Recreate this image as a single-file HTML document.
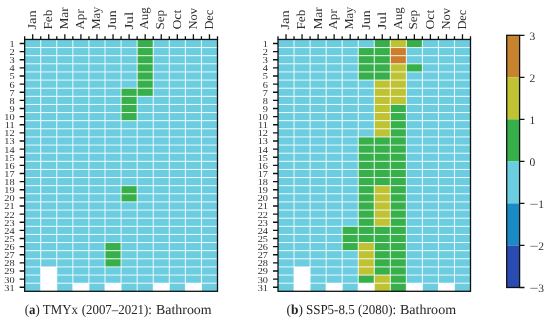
<!DOCTYPE html>
<html><head><meta charset="utf-8"><title>Heatmap</title>
<style>html,body{margin:0;padding:0;background:#fff;width:550px;height:321px;overflow:hidden}svg{display:block;text-rendering:geometricPrecision}</style>
</head><body>
<svg width="550" height="321" viewBox="0 0 550 321" font-family="'Liberation Serif', 'DejaVu Serif', serif" fill="#2e2e2e">
<rect x="24.65" y="39.45" width="16.07" height="8.12" fill="#6ccde0"/>
<rect x="24.65" y="47.57" width="16.07" height="8.12" fill="#6ccde0"/>
<rect x="24.65" y="55.70" width="16.07" height="8.12" fill="#6ccde0"/>
<rect x="24.65" y="63.82" width="16.07" height="8.12" fill="#6ccde0"/>
<rect x="24.65" y="71.95" width="16.07" height="8.12" fill="#6ccde0"/>
<rect x="24.65" y="80.07" width="16.07" height="8.12" fill="#6ccde0"/>
<rect x="24.65" y="88.20" width="16.07" height="8.12" fill="#6ccde0"/>
<rect x="24.65" y="96.32" width="16.07" height="8.12" fill="#6ccde0"/>
<rect x="24.65" y="104.44" width="16.07" height="8.12" fill="#6ccde0"/>
<rect x="24.65" y="112.57" width="16.07" height="8.12" fill="#6ccde0"/>
<rect x="24.65" y="120.69" width="16.07" height="8.12" fill="#6ccde0"/>
<rect x="24.65" y="128.82" width="16.07" height="8.12" fill="#6ccde0"/>
<rect x="24.65" y="136.94" width="16.07" height="8.12" fill="#6ccde0"/>
<rect x="24.65" y="145.06" width="16.07" height="8.12" fill="#6ccde0"/>
<rect x="24.65" y="153.19" width="16.07" height="8.12" fill="#6ccde0"/>
<rect x="24.65" y="161.31" width="16.07" height="8.12" fill="#6ccde0"/>
<rect x="24.65" y="169.44" width="16.07" height="8.12" fill="#6ccde0"/>
<rect x="24.65" y="177.56" width="16.07" height="8.12" fill="#6ccde0"/>
<rect x="24.65" y="185.69" width="16.07" height="8.12" fill="#6ccde0"/>
<rect x="24.65" y="193.81" width="16.07" height="8.12" fill="#6ccde0"/>
<rect x="24.65" y="201.93" width="16.07" height="8.12" fill="#6ccde0"/>
<rect x="24.65" y="210.06" width="16.07" height="8.12" fill="#6ccde0"/>
<rect x="24.65" y="218.18" width="16.07" height="8.12" fill="#6ccde0"/>
<rect x="24.65" y="226.31" width="16.07" height="8.12" fill="#6ccde0"/>
<rect x="24.65" y="234.43" width="16.07" height="8.12" fill="#6ccde0"/>
<rect x="24.65" y="242.55" width="16.07" height="8.12" fill="#6ccde0"/>
<rect x="24.65" y="250.68" width="16.07" height="8.12" fill="#6ccde0"/>
<rect x="24.65" y="258.80" width="16.07" height="8.12" fill="#6ccde0"/>
<rect x="24.65" y="266.93" width="16.07" height="8.12" fill="#6ccde0"/>
<rect x="24.65" y="275.05" width="16.07" height="8.12" fill="#6ccde0"/>
<rect x="24.65" y="283.18" width="16.07" height="8.12" fill="#6ccde0"/>
<rect x="40.72" y="39.45" width="16.07" height="8.12" fill="#6ccde0"/>
<rect x="40.72" y="47.57" width="16.07" height="8.12" fill="#6ccde0"/>
<rect x="40.72" y="55.70" width="16.07" height="8.12" fill="#6ccde0"/>
<rect x="40.72" y="63.82" width="16.07" height="8.12" fill="#6ccde0"/>
<rect x="40.72" y="71.95" width="16.07" height="8.12" fill="#6ccde0"/>
<rect x="40.72" y="80.07" width="16.07" height="8.12" fill="#6ccde0"/>
<rect x="40.72" y="88.20" width="16.07" height="8.12" fill="#6ccde0"/>
<rect x="40.72" y="96.32" width="16.07" height="8.12" fill="#6ccde0"/>
<rect x="40.72" y="104.44" width="16.07" height="8.12" fill="#6ccde0"/>
<rect x="40.72" y="112.57" width="16.07" height="8.12" fill="#6ccde0"/>
<rect x="40.72" y="120.69" width="16.07" height="8.12" fill="#6ccde0"/>
<rect x="40.72" y="128.82" width="16.07" height="8.12" fill="#6ccde0"/>
<rect x="40.72" y="136.94" width="16.07" height="8.12" fill="#6ccde0"/>
<rect x="40.72" y="145.06" width="16.07" height="8.12" fill="#6ccde0"/>
<rect x="40.72" y="153.19" width="16.07" height="8.12" fill="#6ccde0"/>
<rect x="40.72" y="161.31" width="16.07" height="8.12" fill="#6ccde0"/>
<rect x="40.72" y="169.44" width="16.07" height="8.12" fill="#6ccde0"/>
<rect x="40.72" y="177.56" width="16.07" height="8.12" fill="#6ccde0"/>
<rect x="40.72" y="185.69" width="16.07" height="8.12" fill="#6ccde0"/>
<rect x="40.72" y="193.81" width="16.07" height="8.12" fill="#6ccde0"/>
<rect x="40.72" y="201.93" width="16.07" height="8.12" fill="#6ccde0"/>
<rect x="40.72" y="210.06" width="16.07" height="8.12" fill="#6ccde0"/>
<rect x="40.72" y="218.18" width="16.07" height="8.12" fill="#6ccde0"/>
<rect x="40.72" y="226.31" width="16.07" height="8.12" fill="#6ccde0"/>
<rect x="40.72" y="234.43" width="16.07" height="8.12" fill="#6ccde0"/>
<rect x="40.72" y="242.55" width="16.07" height="8.12" fill="#6ccde0"/>
<rect x="40.72" y="250.68" width="16.07" height="8.12" fill="#6ccde0"/>
<rect x="40.72" y="258.80" width="16.07" height="8.12" fill="#6ccde0"/>
<rect x="56.79" y="39.45" width="16.07" height="8.12" fill="#6ccde0"/>
<rect x="56.79" y="47.57" width="16.07" height="8.12" fill="#6ccde0"/>
<rect x="56.79" y="55.70" width="16.07" height="8.12" fill="#6ccde0"/>
<rect x="56.79" y="63.82" width="16.07" height="8.12" fill="#6ccde0"/>
<rect x="56.79" y="71.95" width="16.07" height="8.12" fill="#6ccde0"/>
<rect x="56.79" y="80.07" width="16.07" height="8.12" fill="#6ccde0"/>
<rect x="56.79" y="88.20" width="16.07" height="8.12" fill="#6ccde0"/>
<rect x="56.79" y="96.32" width="16.07" height="8.12" fill="#6ccde0"/>
<rect x="56.79" y="104.44" width="16.07" height="8.12" fill="#6ccde0"/>
<rect x="56.79" y="112.57" width="16.07" height="8.12" fill="#6ccde0"/>
<rect x="56.79" y="120.69" width="16.07" height="8.12" fill="#6ccde0"/>
<rect x="56.79" y="128.82" width="16.07" height="8.12" fill="#6ccde0"/>
<rect x="56.79" y="136.94" width="16.07" height="8.12" fill="#6ccde0"/>
<rect x="56.79" y="145.06" width="16.07" height="8.12" fill="#6ccde0"/>
<rect x="56.79" y="153.19" width="16.07" height="8.12" fill="#6ccde0"/>
<rect x="56.79" y="161.31" width="16.07" height="8.12" fill="#6ccde0"/>
<rect x="56.79" y="169.44" width="16.07" height="8.12" fill="#6ccde0"/>
<rect x="56.79" y="177.56" width="16.07" height="8.12" fill="#6ccde0"/>
<rect x="56.79" y="185.69" width="16.07" height="8.12" fill="#6ccde0"/>
<rect x="56.79" y="193.81" width="16.07" height="8.12" fill="#6ccde0"/>
<rect x="56.79" y="201.93" width="16.07" height="8.12" fill="#6ccde0"/>
<rect x="56.79" y="210.06" width="16.07" height="8.12" fill="#6ccde0"/>
<rect x="56.79" y="218.18" width="16.07" height="8.12" fill="#6ccde0"/>
<rect x="56.79" y="226.31" width="16.07" height="8.12" fill="#6ccde0"/>
<rect x="56.79" y="234.43" width="16.07" height="8.12" fill="#6ccde0"/>
<rect x="56.79" y="242.55" width="16.07" height="8.12" fill="#6ccde0"/>
<rect x="56.79" y="250.68" width="16.07" height="8.12" fill="#6ccde0"/>
<rect x="56.79" y="258.80" width="16.07" height="8.12" fill="#6ccde0"/>
<rect x="56.79" y="266.93" width="16.07" height="8.12" fill="#6ccde0"/>
<rect x="56.79" y="275.05" width="16.07" height="8.12" fill="#6ccde0"/>
<rect x="56.79" y="283.18" width="16.07" height="8.12" fill="#6ccde0"/>
<rect x="72.86" y="39.45" width="16.07" height="8.12" fill="#6ccde0"/>
<rect x="72.86" y="47.57" width="16.07" height="8.12" fill="#6ccde0"/>
<rect x="72.86" y="55.70" width="16.07" height="8.12" fill="#6ccde0"/>
<rect x="72.86" y="63.82" width="16.07" height="8.12" fill="#6ccde0"/>
<rect x="72.86" y="71.95" width="16.07" height="8.12" fill="#6ccde0"/>
<rect x="72.86" y="80.07" width="16.07" height="8.12" fill="#6ccde0"/>
<rect x="72.86" y="88.20" width="16.07" height="8.12" fill="#6ccde0"/>
<rect x="72.86" y="96.32" width="16.07" height="8.12" fill="#6ccde0"/>
<rect x="72.86" y="104.44" width="16.07" height="8.12" fill="#6ccde0"/>
<rect x="72.86" y="112.57" width="16.07" height="8.12" fill="#6ccde0"/>
<rect x="72.86" y="120.69" width="16.07" height="8.12" fill="#6ccde0"/>
<rect x="72.86" y="128.82" width="16.07" height="8.12" fill="#6ccde0"/>
<rect x="72.86" y="136.94" width="16.07" height="8.12" fill="#6ccde0"/>
<rect x="72.86" y="145.06" width="16.07" height="8.12" fill="#6ccde0"/>
<rect x="72.86" y="153.19" width="16.07" height="8.12" fill="#6ccde0"/>
<rect x="72.86" y="161.31" width="16.07" height="8.12" fill="#6ccde0"/>
<rect x="72.86" y="169.44" width="16.07" height="8.12" fill="#6ccde0"/>
<rect x="72.86" y="177.56" width="16.07" height="8.12" fill="#6ccde0"/>
<rect x="72.86" y="185.69" width="16.07" height="8.12" fill="#6ccde0"/>
<rect x="72.86" y="193.81" width="16.07" height="8.12" fill="#6ccde0"/>
<rect x="72.86" y="201.93" width="16.07" height="8.12" fill="#6ccde0"/>
<rect x="72.86" y="210.06" width="16.07" height="8.12" fill="#6ccde0"/>
<rect x="72.86" y="218.18" width="16.07" height="8.12" fill="#6ccde0"/>
<rect x="72.86" y="226.31" width="16.07" height="8.12" fill="#6ccde0"/>
<rect x="72.86" y="234.43" width="16.07" height="8.12" fill="#6ccde0"/>
<rect x="72.86" y="242.55" width="16.07" height="8.12" fill="#6ccde0"/>
<rect x="72.86" y="250.68" width="16.07" height="8.12" fill="#6ccde0"/>
<rect x="72.86" y="258.80" width="16.07" height="8.12" fill="#6ccde0"/>
<rect x="72.86" y="266.93" width="16.07" height="8.12" fill="#6ccde0"/>
<rect x="72.86" y="275.05" width="16.07" height="8.12" fill="#6ccde0"/>
<rect x="88.93" y="39.45" width="16.07" height="8.12" fill="#6ccde0"/>
<rect x="88.93" y="47.57" width="16.07" height="8.12" fill="#6ccde0"/>
<rect x="88.93" y="55.70" width="16.07" height="8.12" fill="#6ccde0"/>
<rect x="88.93" y="63.82" width="16.07" height="8.12" fill="#6ccde0"/>
<rect x="88.93" y="71.95" width="16.07" height="8.12" fill="#6ccde0"/>
<rect x="88.93" y="80.07" width="16.07" height="8.12" fill="#6ccde0"/>
<rect x="88.93" y="88.20" width="16.07" height="8.12" fill="#6ccde0"/>
<rect x="88.93" y="96.32" width="16.07" height="8.12" fill="#6ccde0"/>
<rect x="88.93" y="104.44" width="16.07" height="8.12" fill="#6ccde0"/>
<rect x="88.93" y="112.57" width="16.07" height="8.12" fill="#6ccde0"/>
<rect x="88.93" y="120.69" width="16.07" height="8.12" fill="#6ccde0"/>
<rect x="88.93" y="128.82" width="16.07" height="8.12" fill="#6ccde0"/>
<rect x="88.93" y="136.94" width="16.07" height="8.12" fill="#6ccde0"/>
<rect x="88.93" y="145.06" width="16.07" height="8.12" fill="#6ccde0"/>
<rect x="88.93" y="153.19" width="16.07" height="8.12" fill="#6ccde0"/>
<rect x="88.93" y="161.31" width="16.07" height="8.12" fill="#6ccde0"/>
<rect x="88.93" y="169.44" width="16.07" height="8.12" fill="#6ccde0"/>
<rect x="88.93" y="177.56" width="16.07" height="8.12" fill="#6ccde0"/>
<rect x="88.93" y="185.69" width="16.07" height="8.12" fill="#6ccde0"/>
<rect x="88.93" y="193.81" width="16.07" height="8.12" fill="#6ccde0"/>
<rect x="88.93" y="201.93" width="16.07" height="8.12" fill="#6ccde0"/>
<rect x="88.93" y="210.06" width="16.07" height="8.12" fill="#6ccde0"/>
<rect x="88.93" y="218.18" width="16.07" height="8.12" fill="#6ccde0"/>
<rect x="88.93" y="226.31" width="16.07" height="8.12" fill="#6ccde0"/>
<rect x="88.93" y="234.43" width="16.07" height="8.12" fill="#6ccde0"/>
<rect x="88.93" y="242.55" width="16.07" height="8.12" fill="#6ccde0"/>
<rect x="88.93" y="250.68" width="16.07" height="8.12" fill="#6ccde0"/>
<rect x="88.93" y="258.80" width="16.07" height="8.12" fill="#6ccde0"/>
<rect x="88.93" y="266.93" width="16.07" height="8.12" fill="#6ccde0"/>
<rect x="88.93" y="275.05" width="16.07" height="8.12" fill="#6ccde0"/>
<rect x="88.93" y="283.18" width="16.07" height="8.12" fill="#6ccde0"/>
<rect x="105.00" y="39.45" width="16.07" height="8.12" fill="#6ccde0"/>
<rect x="105.00" y="47.57" width="16.07" height="8.12" fill="#6ccde0"/>
<rect x="105.00" y="55.70" width="16.07" height="8.12" fill="#6ccde0"/>
<rect x="105.00" y="63.82" width="16.07" height="8.12" fill="#6ccde0"/>
<rect x="105.00" y="71.95" width="16.07" height="8.12" fill="#6ccde0"/>
<rect x="105.00" y="80.07" width="16.07" height="8.12" fill="#6ccde0"/>
<rect x="105.00" y="88.20" width="16.07" height="8.12" fill="#6ccde0"/>
<rect x="105.00" y="96.32" width="16.07" height="8.12" fill="#6ccde0"/>
<rect x="105.00" y="104.44" width="16.07" height="8.12" fill="#6ccde0"/>
<rect x="105.00" y="112.57" width="16.07" height="8.12" fill="#6ccde0"/>
<rect x="105.00" y="120.69" width="16.07" height="8.12" fill="#6ccde0"/>
<rect x="105.00" y="128.82" width="16.07" height="8.12" fill="#6ccde0"/>
<rect x="105.00" y="136.94" width="16.07" height="8.12" fill="#6ccde0"/>
<rect x="105.00" y="145.06" width="16.07" height="8.12" fill="#6ccde0"/>
<rect x="105.00" y="153.19" width="16.07" height="8.12" fill="#6ccde0"/>
<rect x="105.00" y="161.31" width="16.07" height="8.12" fill="#6ccde0"/>
<rect x="105.00" y="169.44" width="16.07" height="8.12" fill="#6ccde0"/>
<rect x="105.00" y="177.56" width="16.07" height="8.12" fill="#6ccde0"/>
<rect x="105.00" y="185.69" width="16.07" height="8.12" fill="#6ccde0"/>
<rect x="105.00" y="193.81" width="16.07" height="8.12" fill="#6ccde0"/>
<rect x="105.00" y="201.93" width="16.07" height="8.12" fill="#6ccde0"/>
<rect x="105.00" y="210.06" width="16.07" height="8.12" fill="#6ccde0"/>
<rect x="105.00" y="218.18" width="16.07" height="8.12" fill="#6ccde0"/>
<rect x="105.00" y="226.31" width="16.07" height="8.12" fill="#6ccde0"/>
<rect x="105.00" y="234.43" width="16.07" height="8.12" fill="#6ccde0"/>
<rect x="105.00" y="242.55" width="16.07" height="8.12" fill="#37b04b"/>
<rect x="105.00" y="250.68" width="16.07" height="8.12" fill="#37b04b"/>
<rect x="105.00" y="258.80" width="16.07" height="8.12" fill="#37b04b"/>
<rect x="105.00" y="266.93" width="16.07" height="8.12" fill="#6ccde0"/>
<rect x="105.00" y="275.05" width="16.07" height="8.12" fill="#6ccde0"/>
<rect x="121.07" y="39.45" width="16.07" height="8.12" fill="#6ccde0"/>
<rect x="121.07" y="47.57" width="16.07" height="8.12" fill="#6ccde0"/>
<rect x="121.07" y="55.70" width="16.07" height="8.12" fill="#6ccde0"/>
<rect x="121.07" y="63.82" width="16.07" height="8.12" fill="#6ccde0"/>
<rect x="121.07" y="71.95" width="16.07" height="8.12" fill="#6ccde0"/>
<rect x="121.07" y="80.07" width="16.07" height="8.12" fill="#6ccde0"/>
<rect x="121.07" y="88.20" width="16.07" height="8.12" fill="#37b04b"/>
<rect x="121.07" y="96.32" width="16.07" height="8.12" fill="#37b04b"/>
<rect x="121.07" y="104.44" width="16.07" height="8.12" fill="#37b04b"/>
<rect x="121.07" y="112.57" width="16.07" height="8.12" fill="#37b04b"/>
<rect x="121.07" y="120.69" width="16.07" height="8.12" fill="#6ccde0"/>
<rect x="121.07" y="128.82" width="16.07" height="8.12" fill="#6ccde0"/>
<rect x="121.07" y="136.94" width="16.07" height="8.12" fill="#6ccde0"/>
<rect x="121.07" y="145.06" width="16.07" height="8.12" fill="#6ccde0"/>
<rect x="121.07" y="153.19" width="16.07" height="8.12" fill="#6ccde0"/>
<rect x="121.07" y="161.31" width="16.07" height="8.12" fill="#6ccde0"/>
<rect x="121.07" y="169.44" width="16.07" height="8.12" fill="#6ccde0"/>
<rect x="121.07" y="177.56" width="16.07" height="8.12" fill="#6ccde0"/>
<rect x="121.07" y="185.69" width="16.07" height="8.12" fill="#37b04b"/>
<rect x="121.07" y="193.81" width="16.07" height="8.12" fill="#37b04b"/>
<rect x="121.07" y="201.93" width="16.07" height="8.12" fill="#6ccde0"/>
<rect x="121.07" y="210.06" width="16.07" height="8.12" fill="#6ccde0"/>
<rect x="121.07" y="218.18" width="16.07" height="8.12" fill="#6ccde0"/>
<rect x="121.07" y="226.31" width="16.07" height="8.12" fill="#6ccde0"/>
<rect x="121.07" y="234.43" width="16.07" height="8.12" fill="#6ccde0"/>
<rect x="121.07" y="242.55" width="16.07" height="8.12" fill="#6ccde0"/>
<rect x="121.07" y="250.68" width="16.07" height="8.12" fill="#6ccde0"/>
<rect x="121.07" y="258.80" width="16.07" height="8.12" fill="#6ccde0"/>
<rect x="121.07" y="266.93" width="16.07" height="8.12" fill="#6ccde0"/>
<rect x="121.07" y="275.05" width="16.07" height="8.12" fill="#6ccde0"/>
<rect x="121.07" y="283.18" width="16.07" height="8.12" fill="#6ccde0"/>
<rect x="137.15" y="39.45" width="16.07" height="8.12" fill="#37b04b"/>
<rect x="137.15" y="47.57" width="16.07" height="8.12" fill="#37b04b"/>
<rect x="137.15" y="55.70" width="16.07" height="8.12" fill="#37b04b"/>
<rect x="137.15" y="63.82" width="16.07" height="8.12" fill="#37b04b"/>
<rect x="137.15" y="71.95" width="16.07" height="8.12" fill="#37b04b"/>
<rect x="137.15" y="80.07" width="16.07" height="8.12" fill="#37b04b"/>
<rect x="137.15" y="88.20" width="16.07" height="8.12" fill="#37b04b"/>
<rect x="137.15" y="96.32" width="16.07" height="8.12" fill="#6ccde0"/>
<rect x="137.15" y="104.44" width="16.07" height="8.12" fill="#6ccde0"/>
<rect x="137.15" y="112.57" width="16.07" height="8.12" fill="#6ccde0"/>
<rect x="137.15" y="120.69" width="16.07" height="8.12" fill="#6ccde0"/>
<rect x="137.15" y="128.82" width="16.07" height="8.12" fill="#6ccde0"/>
<rect x="137.15" y="136.94" width="16.07" height="8.12" fill="#6ccde0"/>
<rect x="137.15" y="145.06" width="16.07" height="8.12" fill="#6ccde0"/>
<rect x="137.15" y="153.19" width="16.07" height="8.12" fill="#6ccde0"/>
<rect x="137.15" y="161.31" width="16.07" height="8.12" fill="#6ccde0"/>
<rect x="137.15" y="169.44" width="16.07" height="8.12" fill="#6ccde0"/>
<rect x="137.15" y="177.56" width="16.07" height="8.12" fill="#6ccde0"/>
<rect x="137.15" y="185.69" width="16.07" height="8.12" fill="#6ccde0"/>
<rect x="137.15" y="193.81" width="16.07" height="8.12" fill="#6ccde0"/>
<rect x="137.15" y="201.93" width="16.07" height="8.12" fill="#6ccde0"/>
<rect x="137.15" y="210.06" width="16.07" height="8.12" fill="#6ccde0"/>
<rect x="137.15" y="218.18" width="16.07" height="8.12" fill="#6ccde0"/>
<rect x="137.15" y="226.31" width="16.07" height="8.12" fill="#6ccde0"/>
<rect x="137.15" y="234.43" width="16.07" height="8.12" fill="#6ccde0"/>
<rect x="137.15" y="242.55" width="16.07" height="8.12" fill="#6ccde0"/>
<rect x="137.15" y="250.68" width="16.07" height="8.12" fill="#6ccde0"/>
<rect x="137.15" y="258.80" width="16.07" height="8.12" fill="#6ccde0"/>
<rect x="137.15" y="266.93" width="16.07" height="8.12" fill="#6ccde0"/>
<rect x="137.15" y="275.05" width="16.07" height="8.12" fill="#6ccde0"/>
<rect x="137.15" y="283.18" width="16.07" height="8.12" fill="#6ccde0"/>
<rect x="153.22" y="39.45" width="16.07" height="8.12" fill="#6ccde0"/>
<rect x="153.22" y="47.57" width="16.07" height="8.12" fill="#6ccde0"/>
<rect x="153.22" y="55.70" width="16.07" height="8.12" fill="#6ccde0"/>
<rect x="153.22" y="63.82" width="16.07" height="8.12" fill="#6ccde0"/>
<rect x="153.22" y="71.95" width="16.07" height="8.12" fill="#6ccde0"/>
<rect x="153.22" y="80.07" width="16.07" height="8.12" fill="#6ccde0"/>
<rect x="153.22" y="88.20" width="16.07" height="8.12" fill="#6ccde0"/>
<rect x="153.22" y="96.32" width="16.07" height="8.12" fill="#6ccde0"/>
<rect x="153.22" y="104.44" width="16.07" height="8.12" fill="#6ccde0"/>
<rect x="153.22" y="112.57" width="16.07" height="8.12" fill="#6ccde0"/>
<rect x="153.22" y="120.69" width="16.07" height="8.12" fill="#6ccde0"/>
<rect x="153.22" y="128.82" width="16.07" height="8.12" fill="#6ccde0"/>
<rect x="153.22" y="136.94" width="16.07" height="8.12" fill="#6ccde0"/>
<rect x="153.22" y="145.06" width="16.07" height="8.12" fill="#6ccde0"/>
<rect x="153.22" y="153.19" width="16.07" height="8.12" fill="#6ccde0"/>
<rect x="153.22" y="161.31" width="16.07" height="8.12" fill="#6ccde0"/>
<rect x="153.22" y="169.44" width="16.07" height="8.12" fill="#6ccde0"/>
<rect x="153.22" y="177.56" width="16.07" height="8.12" fill="#6ccde0"/>
<rect x="153.22" y="185.69" width="16.07" height="8.12" fill="#6ccde0"/>
<rect x="153.22" y="193.81" width="16.07" height="8.12" fill="#6ccde0"/>
<rect x="153.22" y="201.93" width="16.07" height="8.12" fill="#6ccde0"/>
<rect x="153.22" y="210.06" width="16.07" height="8.12" fill="#6ccde0"/>
<rect x="153.22" y="218.18" width="16.07" height="8.12" fill="#6ccde0"/>
<rect x="153.22" y="226.31" width="16.07" height="8.12" fill="#6ccde0"/>
<rect x="153.22" y="234.43" width="16.07" height="8.12" fill="#6ccde0"/>
<rect x="153.22" y="242.55" width="16.07" height="8.12" fill="#6ccde0"/>
<rect x="153.22" y="250.68" width="16.07" height="8.12" fill="#6ccde0"/>
<rect x="153.22" y="258.80" width="16.07" height="8.12" fill="#6ccde0"/>
<rect x="153.22" y="266.93" width="16.07" height="8.12" fill="#6ccde0"/>
<rect x="153.22" y="275.05" width="16.07" height="8.12" fill="#6ccde0"/>
<rect x="169.29" y="39.45" width="16.07" height="8.12" fill="#6ccde0"/>
<rect x="169.29" y="47.57" width="16.07" height="8.12" fill="#6ccde0"/>
<rect x="169.29" y="55.70" width="16.07" height="8.12" fill="#6ccde0"/>
<rect x="169.29" y="63.82" width="16.07" height="8.12" fill="#6ccde0"/>
<rect x="169.29" y="71.95" width="16.07" height="8.12" fill="#6ccde0"/>
<rect x="169.29" y="80.07" width="16.07" height="8.12" fill="#6ccde0"/>
<rect x="169.29" y="88.20" width="16.07" height="8.12" fill="#6ccde0"/>
<rect x="169.29" y="96.32" width="16.07" height="8.12" fill="#6ccde0"/>
<rect x="169.29" y="104.44" width="16.07" height="8.12" fill="#6ccde0"/>
<rect x="169.29" y="112.57" width="16.07" height="8.12" fill="#6ccde0"/>
<rect x="169.29" y="120.69" width="16.07" height="8.12" fill="#6ccde0"/>
<rect x="169.29" y="128.82" width="16.07" height="8.12" fill="#6ccde0"/>
<rect x="169.29" y="136.94" width="16.07" height="8.12" fill="#6ccde0"/>
<rect x="169.29" y="145.06" width="16.07" height="8.12" fill="#6ccde0"/>
<rect x="169.29" y="153.19" width="16.07" height="8.12" fill="#6ccde0"/>
<rect x="169.29" y="161.31" width="16.07" height="8.12" fill="#6ccde0"/>
<rect x="169.29" y="169.44" width="16.07" height="8.12" fill="#6ccde0"/>
<rect x="169.29" y="177.56" width="16.07" height="8.12" fill="#6ccde0"/>
<rect x="169.29" y="185.69" width="16.07" height="8.12" fill="#6ccde0"/>
<rect x="169.29" y="193.81" width="16.07" height="8.12" fill="#6ccde0"/>
<rect x="169.29" y="201.93" width="16.07" height="8.12" fill="#6ccde0"/>
<rect x="169.29" y="210.06" width="16.07" height="8.12" fill="#6ccde0"/>
<rect x="169.29" y="218.18" width="16.07" height="8.12" fill="#6ccde0"/>
<rect x="169.29" y="226.31" width="16.07" height="8.12" fill="#6ccde0"/>
<rect x="169.29" y="234.43" width="16.07" height="8.12" fill="#6ccde0"/>
<rect x="169.29" y="242.55" width="16.07" height="8.12" fill="#6ccde0"/>
<rect x="169.29" y="250.68" width="16.07" height="8.12" fill="#6ccde0"/>
<rect x="169.29" y="258.80" width="16.07" height="8.12" fill="#6ccde0"/>
<rect x="169.29" y="266.93" width="16.07" height="8.12" fill="#6ccde0"/>
<rect x="169.29" y="275.05" width="16.07" height="8.12" fill="#6ccde0"/>
<rect x="169.29" y="283.18" width="16.07" height="8.12" fill="#6ccde0"/>
<rect x="185.36" y="39.45" width="16.07" height="8.12" fill="#6ccde0"/>
<rect x="185.36" y="47.57" width="16.07" height="8.12" fill="#6ccde0"/>
<rect x="185.36" y="55.70" width="16.07" height="8.12" fill="#6ccde0"/>
<rect x="185.36" y="63.82" width="16.07" height="8.12" fill="#6ccde0"/>
<rect x="185.36" y="71.95" width="16.07" height="8.12" fill="#6ccde0"/>
<rect x="185.36" y="80.07" width="16.07" height="8.12" fill="#6ccde0"/>
<rect x="185.36" y="88.20" width="16.07" height="8.12" fill="#6ccde0"/>
<rect x="185.36" y="96.32" width="16.07" height="8.12" fill="#6ccde0"/>
<rect x="185.36" y="104.44" width="16.07" height="8.12" fill="#6ccde0"/>
<rect x="185.36" y="112.57" width="16.07" height="8.12" fill="#6ccde0"/>
<rect x="185.36" y="120.69" width="16.07" height="8.12" fill="#6ccde0"/>
<rect x="185.36" y="128.82" width="16.07" height="8.12" fill="#6ccde0"/>
<rect x="185.36" y="136.94" width="16.07" height="8.12" fill="#6ccde0"/>
<rect x="185.36" y="145.06" width="16.07" height="8.12" fill="#6ccde0"/>
<rect x="185.36" y="153.19" width="16.07" height="8.12" fill="#6ccde0"/>
<rect x="185.36" y="161.31" width="16.07" height="8.12" fill="#6ccde0"/>
<rect x="185.36" y="169.44" width="16.07" height="8.12" fill="#6ccde0"/>
<rect x="185.36" y="177.56" width="16.07" height="8.12" fill="#6ccde0"/>
<rect x="185.36" y="185.69" width="16.07" height="8.12" fill="#6ccde0"/>
<rect x="185.36" y="193.81" width="16.07" height="8.12" fill="#6ccde0"/>
<rect x="185.36" y="201.93" width="16.07" height="8.12" fill="#6ccde0"/>
<rect x="185.36" y="210.06" width="16.07" height="8.12" fill="#6ccde0"/>
<rect x="185.36" y="218.18" width="16.07" height="8.12" fill="#6ccde0"/>
<rect x="185.36" y="226.31" width="16.07" height="8.12" fill="#6ccde0"/>
<rect x="185.36" y="234.43" width="16.07" height="8.12" fill="#6ccde0"/>
<rect x="185.36" y="242.55" width="16.07" height="8.12" fill="#6ccde0"/>
<rect x="185.36" y="250.68" width="16.07" height="8.12" fill="#6ccde0"/>
<rect x="185.36" y="258.80" width="16.07" height="8.12" fill="#6ccde0"/>
<rect x="185.36" y="266.93" width="16.07" height="8.12" fill="#6ccde0"/>
<rect x="185.36" y="275.05" width="16.07" height="8.12" fill="#6ccde0"/>
<rect x="201.43" y="39.45" width="16.07" height="8.12" fill="#6ccde0"/>
<rect x="201.43" y="47.57" width="16.07" height="8.12" fill="#6ccde0"/>
<rect x="201.43" y="55.70" width="16.07" height="8.12" fill="#6ccde0"/>
<rect x="201.43" y="63.82" width="16.07" height="8.12" fill="#6ccde0"/>
<rect x="201.43" y="71.95" width="16.07" height="8.12" fill="#6ccde0"/>
<rect x="201.43" y="80.07" width="16.07" height="8.12" fill="#6ccde0"/>
<rect x="201.43" y="88.20" width="16.07" height="8.12" fill="#6ccde0"/>
<rect x="201.43" y="96.32" width="16.07" height="8.12" fill="#6ccde0"/>
<rect x="201.43" y="104.44" width="16.07" height="8.12" fill="#6ccde0"/>
<rect x="201.43" y="112.57" width="16.07" height="8.12" fill="#6ccde0"/>
<rect x="201.43" y="120.69" width="16.07" height="8.12" fill="#6ccde0"/>
<rect x="201.43" y="128.82" width="16.07" height="8.12" fill="#6ccde0"/>
<rect x="201.43" y="136.94" width="16.07" height="8.12" fill="#6ccde0"/>
<rect x="201.43" y="145.06" width="16.07" height="8.12" fill="#6ccde0"/>
<rect x="201.43" y="153.19" width="16.07" height="8.12" fill="#6ccde0"/>
<rect x="201.43" y="161.31" width="16.07" height="8.12" fill="#6ccde0"/>
<rect x="201.43" y="169.44" width="16.07" height="8.12" fill="#6ccde0"/>
<rect x="201.43" y="177.56" width="16.07" height="8.12" fill="#6ccde0"/>
<rect x="201.43" y="185.69" width="16.07" height="8.12" fill="#6ccde0"/>
<rect x="201.43" y="193.81" width="16.07" height="8.12" fill="#6ccde0"/>
<rect x="201.43" y="201.93" width="16.07" height="8.12" fill="#6ccde0"/>
<rect x="201.43" y="210.06" width="16.07" height="8.12" fill="#6ccde0"/>
<rect x="201.43" y="218.18" width="16.07" height="8.12" fill="#6ccde0"/>
<rect x="201.43" y="226.31" width="16.07" height="8.12" fill="#6ccde0"/>
<rect x="201.43" y="234.43" width="16.07" height="8.12" fill="#6ccde0"/>
<rect x="201.43" y="242.55" width="16.07" height="8.12" fill="#6ccde0"/>
<rect x="201.43" y="250.68" width="16.07" height="8.12" fill="#6ccde0"/>
<rect x="201.43" y="258.80" width="16.07" height="8.12" fill="#6ccde0"/>
<rect x="201.43" y="266.93" width="16.07" height="8.12" fill="#6ccde0"/>
<rect x="201.43" y="275.05" width="16.07" height="8.12" fill="#6ccde0"/>
<rect x="201.43" y="283.18" width="16.07" height="8.12" fill="#6ccde0"/>
<path d="M40.72 39.45V291.30M56.79 39.45V291.30M72.86 39.45V291.30M88.93 39.45V291.30M105.00 39.45V291.30M121.07 39.45V291.30M137.15 39.45V291.30M153.22 39.45V291.30M169.29 39.45V291.30M185.36 39.45V291.30M201.43 39.45V291.30M24.65 47.57H217.50M24.65 55.70H217.50M24.65 63.82H217.50M24.65 71.95H217.50M24.65 80.07H217.50M24.65 88.20H217.50M24.65 96.32H217.50M24.65 104.44H217.50M24.65 112.57H217.50M24.65 120.69H217.50M24.65 128.82H217.50M24.65 136.94H217.50M24.65 145.06H217.50M24.65 153.19H217.50M24.65 161.31H217.50M24.65 169.44H217.50M24.65 177.56H217.50M24.65 185.69H217.50M24.65 193.81H217.50M24.65 201.93H217.50M24.65 210.06H217.50M24.65 218.18H217.50M24.65 226.31H217.50M24.65 234.43H217.50M24.65 242.55H217.50M24.65 250.68H217.50M24.65 258.80H217.50M24.65 266.93H217.50M24.65 275.05H217.50M24.65 283.18H217.50" stroke="#fff" stroke-width="0.85" fill="none"/>
<rect x="24.65" y="39.45" width="192.85" height="251.85" fill="none" stroke="#111" stroke-width="1.3"/>
<path d="M19.65 43.51H24.65M19.65 51.64H24.65M19.65 59.76H24.65M19.65 67.88H24.65M19.65 76.01H24.65M19.65 84.13H24.65M19.65 92.26H24.65M19.65 100.38H24.65M19.65 108.51H24.65M19.65 116.63H24.65M19.65 124.75H24.65M19.65 132.88H24.65M19.65 141.00H24.65M19.65 149.13H24.65M19.65 157.25H24.65M19.65 165.38H24.65M19.65 173.50H24.65M19.65 181.62H24.65M19.65 189.75H24.65M19.65 197.87H24.65M19.65 206.00H24.65M19.65 214.12H24.65M19.65 222.24H24.65M19.65 230.37H24.65M19.65 238.49H24.65M19.65 246.62H24.65M19.65 254.74H24.65M19.65 262.87H24.65M19.65 270.99H24.65M19.65 279.11H24.65M19.65 287.24H24.65M32.69 34.35V39.45M48.76 34.35V39.45M64.83 34.35V39.45M80.90 34.35V39.45M96.97 34.35V39.45M113.04 34.35V39.45M129.11 34.35V39.45M145.18 34.35V39.45M161.25 34.35V39.45M177.32 34.35V39.45M193.39 34.35V39.45M209.46 34.35V39.45M24.65 36.25V39.45M40.72 36.25V39.45M56.79 36.25V39.45M72.86 36.25V39.45M88.93 36.25V39.45M105.00 36.25V39.45M121.07 36.25V39.45M137.15 36.25V39.45M153.22 36.25V39.45M169.29 36.25V39.45M185.36 36.25V39.45M201.43 36.25V39.45M217.50 36.25V39.45" stroke="#111" stroke-width="1.3" fill="none"/>
<text transform="translate(14.65 46.91) scale(1.12 1)" text-anchor="end" font-size="9.2">1</text>
<text transform="translate(14.65 55.04) scale(1.12 1)" text-anchor="end" font-size="9.2">2</text>
<text transform="translate(14.65 63.16) scale(1.12 1)" text-anchor="end" font-size="9.2">3</text>
<text transform="translate(14.65 71.28) scale(1.12 1)" text-anchor="end" font-size="9.2">4</text>
<text transform="translate(14.65 79.41) scale(1.12 1)" text-anchor="end" font-size="9.2">5</text>
<text transform="translate(14.65 87.53) scale(1.12 1)" text-anchor="end" font-size="9.2">6</text>
<text transform="translate(14.65 95.66) scale(1.12 1)" text-anchor="end" font-size="9.2">7</text>
<text transform="translate(14.65 103.78) scale(1.12 1)" text-anchor="end" font-size="9.2">8</text>
<text transform="translate(14.65 111.91) scale(1.12 1)" text-anchor="end" font-size="9.2">9</text>
<text transform="translate(14.65 120.03) scale(1.12 1)" text-anchor="end" font-size="9.2">10</text>
<text transform="translate(14.65 128.15) scale(1.12 1)" text-anchor="end" font-size="9.2">11</text>
<text transform="translate(14.65 136.28) scale(1.12 1)" text-anchor="end" font-size="9.2">12</text>
<text transform="translate(14.65 144.40) scale(1.12 1)" text-anchor="end" font-size="9.2">13</text>
<text transform="translate(14.65 152.53) scale(1.12 1)" text-anchor="end" font-size="9.2">14</text>
<text transform="translate(14.65 160.65) scale(1.12 1)" text-anchor="end" font-size="9.2">15</text>
<text transform="translate(14.65 168.78) scale(1.12 1)" text-anchor="end" font-size="9.2">16</text>
<text transform="translate(14.65 176.90) scale(1.12 1)" text-anchor="end" font-size="9.2">17</text>
<text transform="translate(14.65 185.02) scale(1.12 1)" text-anchor="end" font-size="9.2">18</text>
<text transform="translate(14.65 193.15) scale(1.12 1)" text-anchor="end" font-size="9.2">19</text>
<text transform="translate(14.65 201.27) scale(1.12 1)" text-anchor="end" font-size="9.2">20</text>
<text transform="translate(14.65 209.40) scale(1.12 1)" text-anchor="end" font-size="9.2">21</text>
<text transform="translate(14.65 217.52) scale(1.12 1)" text-anchor="end" font-size="9.2">22</text>
<text transform="translate(14.65 225.64) scale(1.12 1)" text-anchor="end" font-size="9.2">23</text>
<text transform="translate(14.65 233.77) scale(1.12 1)" text-anchor="end" font-size="9.2">24</text>
<text transform="translate(14.65 241.89) scale(1.12 1)" text-anchor="end" font-size="9.2">25</text>
<text transform="translate(14.65 250.02) scale(1.12 1)" text-anchor="end" font-size="9.2">26</text>
<text transform="translate(14.65 258.14) scale(1.12 1)" text-anchor="end" font-size="9.2">27</text>
<text transform="translate(14.65 266.27) scale(1.12 1)" text-anchor="end" font-size="9.2">28</text>
<text transform="translate(14.65 274.39) scale(1.12 1)" text-anchor="end" font-size="9.2">29</text>
<text transform="translate(14.65 282.51) scale(1.12 1)" text-anchor="end" font-size="9.2">30</text>
<text transform="translate(14.65 290.64) scale(1.12 1)" text-anchor="end" font-size="9.2">31</text>
<text transform="translate(35.99 29.6) rotate(-90)" font-size="12.2" textLength="19.50" lengthAdjust="spacingAndGlyphs">Jan</text>
<text transform="translate(52.06 29.6) rotate(-90)" font-size="12.2" textLength="19.90" lengthAdjust="spacingAndGlyphs">Feb</text>
<text transform="translate(68.43 29.6) rotate(-90)" font-size="12.2" textLength="22.30" lengthAdjust="spacingAndGlyphs">Mar</text>
<text transform="translate(84.20 29.6) rotate(-90)" font-size="12.2" textLength="20.40" lengthAdjust="spacingAndGlyphs">Apr</text>
<text transform="translate(100.27 29.6) rotate(-90)" font-size="12.2" textLength="22.80" lengthAdjust="spacingAndGlyphs">May</text>
<text transform="translate(116.34 29.6) rotate(-90)" font-size="12.2" textLength="19.40" lengthAdjust="spacingAndGlyphs">Jun</text>
<text transform="translate(133.21 29.6) rotate(-90)" font-size="12.2" textLength="17.90" lengthAdjust="spacingAndGlyphs">Jul</text>
<text transform="translate(148.48 29.6) rotate(-90)" font-size="12.2" textLength="22.20" lengthAdjust="spacingAndGlyphs">Aug</text>
<text transform="translate(163.75 29.6) rotate(-90)" font-size="12.2" textLength="19.60" lengthAdjust="spacingAndGlyphs">Sep</text>
<text transform="translate(180.62 29.6) rotate(-90)" font-size="12.2" textLength="19.90" lengthAdjust="spacingAndGlyphs">Oct</text>
<text transform="translate(196.69 29.6) rotate(-90)" font-size="12.2" textLength="21.50" lengthAdjust="spacingAndGlyphs">Nov</text>
<text transform="translate(212.76 29.6) rotate(-90)" font-size="12.2" textLength="19.90" lengthAdjust="spacingAndGlyphs">Dec</text>
<rect x="278.00" y="39.45" width="16.04" height="8.12" fill="#6ccde0"/>
<rect x="278.00" y="47.57" width="16.04" height="8.12" fill="#6ccde0"/>
<rect x="278.00" y="55.70" width="16.04" height="8.12" fill="#6ccde0"/>
<rect x="278.00" y="63.82" width="16.04" height="8.12" fill="#6ccde0"/>
<rect x="278.00" y="71.95" width="16.04" height="8.12" fill="#6ccde0"/>
<rect x="278.00" y="80.07" width="16.04" height="8.12" fill="#6ccde0"/>
<rect x="278.00" y="88.20" width="16.04" height="8.12" fill="#6ccde0"/>
<rect x="278.00" y="96.32" width="16.04" height="8.12" fill="#6ccde0"/>
<rect x="278.00" y="104.44" width="16.04" height="8.12" fill="#6ccde0"/>
<rect x="278.00" y="112.57" width="16.04" height="8.12" fill="#6ccde0"/>
<rect x="278.00" y="120.69" width="16.04" height="8.12" fill="#6ccde0"/>
<rect x="278.00" y="128.82" width="16.04" height="8.12" fill="#6ccde0"/>
<rect x="278.00" y="136.94" width="16.04" height="8.12" fill="#6ccde0"/>
<rect x="278.00" y="145.06" width="16.04" height="8.12" fill="#6ccde0"/>
<rect x="278.00" y="153.19" width="16.04" height="8.12" fill="#6ccde0"/>
<rect x="278.00" y="161.31" width="16.04" height="8.12" fill="#6ccde0"/>
<rect x="278.00" y="169.44" width="16.04" height="8.12" fill="#6ccde0"/>
<rect x="278.00" y="177.56" width="16.04" height="8.12" fill="#6ccde0"/>
<rect x="278.00" y="185.69" width="16.04" height="8.12" fill="#6ccde0"/>
<rect x="278.00" y="193.81" width="16.04" height="8.12" fill="#6ccde0"/>
<rect x="278.00" y="201.93" width="16.04" height="8.12" fill="#6ccde0"/>
<rect x="278.00" y="210.06" width="16.04" height="8.12" fill="#6ccde0"/>
<rect x="278.00" y="218.18" width="16.04" height="8.12" fill="#6ccde0"/>
<rect x="278.00" y="226.31" width="16.04" height="8.12" fill="#6ccde0"/>
<rect x="278.00" y="234.43" width="16.04" height="8.12" fill="#6ccde0"/>
<rect x="278.00" y="242.55" width="16.04" height="8.12" fill="#6ccde0"/>
<rect x="278.00" y="250.68" width="16.04" height="8.12" fill="#6ccde0"/>
<rect x="278.00" y="258.80" width="16.04" height="8.12" fill="#6ccde0"/>
<rect x="278.00" y="266.93" width="16.04" height="8.12" fill="#6ccde0"/>
<rect x="278.00" y="275.05" width="16.04" height="8.12" fill="#6ccde0"/>
<rect x="278.00" y="283.18" width="16.04" height="8.12" fill="#6ccde0"/>
<rect x="294.04" y="39.45" width="16.04" height="8.12" fill="#6ccde0"/>
<rect x="294.04" y="47.57" width="16.04" height="8.12" fill="#6ccde0"/>
<rect x="294.04" y="55.70" width="16.04" height="8.12" fill="#6ccde0"/>
<rect x="294.04" y="63.82" width="16.04" height="8.12" fill="#6ccde0"/>
<rect x="294.04" y="71.95" width="16.04" height="8.12" fill="#6ccde0"/>
<rect x="294.04" y="80.07" width="16.04" height="8.12" fill="#6ccde0"/>
<rect x="294.04" y="88.20" width="16.04" height="8.12" fill="#6ccde0"/>
<rect x="294.04" y="96.32" width="16.04" height="8.12" fill="#6ccde0"/>
<rect x="294.04" y="104.44" width="16.04" height="8.12" fill="#6ccde0"/>
<rect x="294.04" y="112.57" width="16.04" height="8.12" fill="#6ccde0"/>
<rect x="294.04" y="120.69" width="16.04" height="8.12" fill="#6ccde0"/>
<rect x="294.04" y="128.82" width="16.04" height="8.12" fill="#6ccde0"/>
<rect x="294.04" y="136.94" width="16.04" height="8.12" fill="#6ccde0"/>
<rect x="294.04" y="145.06" width="16.04" height="8.12" fill="#6ccde0"/>
<rect x="294.04" y="153.19" width="16.04" height="8.12" fill="#6ccde0"/>
<rect x="294.04" y="161.31" width="16.04" height="8.12" fill="#6ccde0"/>
<rect x="294.04" y="169.44" width="16.04" height="8.12" fill="#6ccde0"/>
<rect x="294.04" y="177.56" width="16.04" height="8.12" fill="#6ccde0"/>
<rect x="294.04" y="185.69" width="16.04" height="8.12" fill="#6ccde0"/>
<rect x="294.04" y="193.81" width="16.04" height="8.12" fill="#6ccde0"/>
<rect x="294.04" y="201.93" width="16.04" height="8.12" fill="#6ccde0"/>
<rect x="294.04" y="210.06" width="16.04" height="8.12" fill="#6ccde0"/>
<rect x="294.04" y="218.18" width="16.04" height="8.12" fill="#6ccde0"/>
<rect x="294.04" y="226.31" width="16.04" height="8.12" fill="#6ccde0"/>
<rect x="294.04" y="234.43" width="16.04" height="8.12" fill="#6ccde0"/>
<rect x="294.04" y="242.55" width="16.04" height="8.12" fill="#6ccde0"/>
<rect x="294.04" y="250.68" width="16.04" height="8.12" fill="#6ccde0"/>
<rect x="294.04" y="258.80" width="16.04" height="8.12" fill="#6ccde0"/>
<rect x="310.08" y="39.45" width="16.04" height="8.12" fill="#6ccde0"/>
<rect x="310.08" y="47.57" width="16.04" height="8.12" fill="#6ccde0"/>
<rect x="310.08" y="55.70" width="16.04" height="8.12" fill="#6ccde0"/>
<rect x="310.08" y="63.82" width="16.04" height="8.12" fill="#6ccde0"/>
<rect x="310.08" y="71.95" width="16.04" height="8.12" fill="#6ccde0"/>
<rect x="310.08" y="80.07" width="16.04" height="8.12" fill="#6ccde0"/>
<rect x="310.08" y="88.20" width="16.04" height="8.12" fill="#6ccde0"/>
<rect x="310.08" y="96.32" width="16.04" height="8.12" fill="#6ccde0"/>
<rect x="310.08" y="104.44" width="16.04" height="8.12" fill="#6ccde0"/>
<rect x="310.08" y="112.57" width="16.04" height="8.12" fill="#6ccde0"/>
<rect x="310.08" y="120.69" width="16.04" height="8.12" fill="#6ccde0"/>
<rect x="310.08" y="128.82" width="16.04" height="8.12" fill="#6ccde0"/>
<rect x="310.08" y="136.94" width="16.04" height="8.12" fill="#6ccde0"/>
<rect x="310.08" y="145.06" width="16.04" height="8.12" fill="#6ccde0"/>
<rect x="310.08" y="153.19" width="16.04" height="8.12" fill="#6ccde0"/>
<rect x="310.08" y="161.31" width="16.04" height="8.12" fill="#6ccde0"/>
<rect x="310.08" y="169.44" width="16.04" height="8.12" fill="#6ccde0"/>
<rect x="310.08" y="177.56" width="16.04" height="8.12" fill="#6ccde0"/>
<rect x="310.08" y="185.69" width="16.04" height="8.12" fill="#6ccde0"/>
<rect x="310.08" y="193.81" width="16.04" height="8.12" fill="#6ccde0"/>
<rect x="310.08" y="201.93" width="16.04" height="8.12" fill="#6ccde0"/>
<rect x="310.08" y="210.06" width="16.04" height="8.12" fill="#6ccde0"/>
<rect x="310.08" y="218.18" width="16.04" height="8.12" fill="#6ccde0"/>
<rect x="310.08" y="226.31" width="16.04" height="8.12" fill="#6ccde0"/>
<rect x="310.08" y="234.43" width="16.04" height="8.12" fill="#6ccde0"/>
<rect x="310.08" y="242.55" width="16.04" height="8.12" fill="#6ccde0"/>
<rect x="310.08" y="250.68" width="16.04" height="8.12" fill="#6ccde0"/>
<rect x="310.08" y="258.80" width="16.04" height="8.12" fill="#6ccde0"/>
<rect x="310.08" y="266.93" width="16.04" height="8.12" fill="#6ccde0"/>
<rect x="310.08" y="275.05" width="16.04" height="8.12" fill="#6ccde0"/>
<rect x="310.08" y="283.18" width="16.04" height="8.12" fill="#6ccde0"/>
<rect x="326.12" y="39.45" width="16.04" height="8.12" fill="#6ccde0"/>
<rect x="326.12" y="47.57" width="16.04" height="8.12" fill="#6ccde0"/>
<rect x="326.12" y="55.70" width="16.04" height="8.12" fill="#6ccde0"/>
<rect x="326.12" y="63.82" width="16.04" height="8.12" fill="#6ccde0"/>
<rect x="326.12" y="71.95" width="16.04" height="8.12" fill="#6ccde0"/>
<rect x="326.12" y="80.07" width="16.04" height="8.12" fill="#6ccde0"/>
<rect x="326.12" y="88.20" width="16.04" height="8.12" fill="#6ccde0"/>
<rect x="326.12" y="96.32" width="16.04" height="8.12" fill="#6ccde0"/>
<rect x="326.12" y="104.44" width="16.04" height="8.12" fill="#6ccde0"/>
<rect x="326.12" y="112.57" width="16.04" height="8.12" fill="#6ccde0"/>
<rect x="326.12" y="120.69" width="16.04" height="8.12" fill="#6ccde0"/>
<rect x="326.12" y="128.82" width="16.04" height="8.12" fill="#6ccde0"/>
<rect x="326.12" y="136.94" width="16.04" height="8.12" fill="#6ccde0"/>
<rect x="326.12" y="145.06" width="16.04" height="8.12" fill="#6ccde0"/>
<rect x="326.12" y="153.19" width="16.04" height="8.12" fill="#6ccde0"/>
<rect x="326.12" y="161.31" width="16.04" height="8.12" fill="#6ccde0"/>
<rect x="326.12" y="169.44" width="16.04" height="8.12" fill="#6ccde0"/>
<rect x="326.12" y="177.56" width="16.04" height="8.12" fill="#6ccde0"/>
<rect x="326.12" y="185.69" width="16.04" height="8.12" fill="#6ccde0"/>
<rect x="326.12" y="193.81" width="16.04" height="8.12" fill="#6ccde0"/>
<rect x="326.12" y="201.93" width="16.04" height="8.12" fill="#6ccde0"/>
<rect x="326.12" y="210.06" width="16.04" height="8.12" fill="#6ccde0"/>
<rect x="326.12" y="218.18" width="16.04" height="8.12" fill="#6ccde0"/>
<rect x="326.12" y="226.31" width="16.04" height="8.12" fill="#6ccde0"/>
<rect x="326.12" y="234.43" width="16.04" height="8.12" fill="#6ccde0"/>
<rect x="326.12" y="242.55" width="16.04" height="8.12" fill="#6ccde0"/>
<rect x="326.12" y="250.68" width="16.04" height="8.12" fill="#6ccde0"/>
<rect x="326.12" y="258.80" width="16.04" height="8.12" fill="#6ccde0"/>
<rect x="326.12" y="266.93" width="16.04" height="8.12" fill="#6ccde0"/>
<rect x="326.12" y="275.05" width="16.04" height="8.12" fill="#6ccde0"/>
<rect x="342.17" y="39.45" width="16.04" height="8.12" fill="#6ccde0"/>
<rect x="342.17" y="47.57" width="16.04" height="8.12" fill="#6ccde0"/>
<rect x="342.17" y="55.70" width="16.04" height="8.12" fill="#6ccde0"/>
<rect x="342.17" y="63.82" width="16.04" height="8.12" fill="#6ccde0"/>
<rect x="342.17" y="71.95" width="16.04" height="8.12" fill="#6ccde0"/>
<rect x="342.17" y="80.07" width="16.04" height="8.12" fill="#6ccde0"/>
<rect x="342.17" y="88.20" width="16.04" height="8.12" fill="#6ccde0"/>
<rect x="342.17" y="96.32" width="16.04" height="8.12" fill="#6ccde0"/>
<rect x="342.17" y="104.44" width="16.04" height="8.12" fill="#6ccde0"/>
<rect x="342.17" y="112.57" width="16.04" height="8.12" fill="#6ccde0"/>
<rect x="342.17" y="120.69" width="16.04" height="8.12" fill="#6ccde0"/>
<rect x="342.17" y="128.82" width="16.04" height="8.12" fill="#6ccde0"/>
<rect x="342.17" y="136.94" width="16.04" height="8.12" fill="#6ccde0"/>
<rect x="342.17" y="145.06" width="16.04" height="8.12" fill="#6ccde0"/>
<rect x="342.17" y="153.19" width="16.04" height="8.12" fill="#6ccde0"/>
<rect x="342.17" y="161.31" width="16.04" height="8.12" fill="#6ccde0"/>
<rect x="342.17" y="169.44" width="16.04" height="8.12" fill="#6ccde0"/>
<rect x="342.17" y="177.56" width="16.04" height="8.12" fill="#6ccde0"/>
<rect x="342.17" y="185.69" width="16.04" height="8.12" fill="#6ccde0"/>
<rect x="342.17" y="193.81" width="16.04" height="8.12" fill="#6ccde0"/>
<rect x="342.17" y="201.93" width="16.04" height="8.12" fill="#6ccde0"/>
<rect x="342.17" y="210.06" width="16.04" height="8.12" fill="#6ccde0"/>
<rect x="342.17" y="218.18" width="16.04" height="8.12" fill="#6ccde0"/>
<rect x="342.17" y="226.31" width="16.04" height="8.12" fill="#37b04b"/>
<rect x="342.17" y="234.43" width="16.04" height="8.12" fill="#37b04b"/>
<rect x="342.17" y="242.55" width="16.04" height="8.12" fill="#37b04b"/>
<rect x="342.17" y="250.68" width="16.04" height="8.12" fill="#6ccde0"/>
<rect x="342.17" y="258.80" width="16.04" height="8.12" fill="#6ccde0"/>
<rect x="342.17" y="266.93" width="16.04" height="8.12" fill="#6ccde0"/>
<rect x="342.17" y="275.05" width="16.04" height="8.12" fill="#6ccde0"/>
<rect x="342.17" y="283.18" width="16.04" height="8.12" fill="#6ccde0"/>
<rect x="358.21" y="39.45" width="16.04" height="8.12" fill="#6ccde0"/>
<rect x="358.21" y="47.57" width="16.04" height="8.12" fill="#37b04b"/>
<rect x="358.21" y="55.70" width="16.04" height="8.12" fill="#37b04b"/>
<rect x="358.21" y="63.82" width="16.04" height="8.12" fill="#37b04b"/>
<rect x="358.21" y="71.95" width="16.04" height="8.12" fill="#37b04b"/>
<rect x="358.21" y="80.07" width="16.04" height="8.12" fill="#6ccde0"/>
<rect x="358.21" y="88.20" width="16.04" height="8.12" fill="#6ccde0"/>
<rect x="358.21" y="96.32" width="16.04" height="8.12" fill="#6ccde0"/>
<rect x="358.21" y="104.44" width="16.04" height="8.12" fill="#6ccde0"/>
<rect x="358.21" y="112.57" width="16.04" height="8.12" fill="#6ccde0"/>
<rect x="358.21" y="120.69" width="16.04" height="8.12" fill="#6ccde0"/>
<rect x="358.21" y="128.82" width="16.04" height="8.12" fill="#6ccde0"/>
<rect x="358.21" y="136.94" width="16.04" height="8.12" fill="#37b04b"/>
<rect x="358.21" y="145.06" width="16.04" height="8.12" fill="#37b04b"/>
<rect x="358.21" y="153.19" width="16.04" height="8.12" fill="#37b04b"/>
<rect x="358.21" y="161.31" width="16.04" height="8.12" fill="#37b04b"/>
<rect x="358.21" y="169.44" width="16.04" height="8.12" fill="#37b04b"/>
<rect x="358.21" y="177.56" width="16.04" height="8.12" fill="#37b04b"/>
<rect x="358.21" y="185.69" width="16.04" height="8.12" fill="#37b04b"/>
<rect x="358.21" y="193.81" width="16.04" height="8.12" fill="#37b04b"/>
<rect x="358.21" y="201.93" width="16.04" height="8.12" fill="#37b04b"/>
<rect x="358.21" y="210.06" width="16.04" height="8.12" fill="#37b04b"/>
<rect x="358.21" y="218.18" width="16.04" height="8.12" fill="#37b04b"/>
<rect x="358.21" y="226.31" width="16.04" height="8.12" fill="#37b04b"/>
<rect x="358.21" y="234.43" width="16.04" height="8.12" fill="#37b04b"/>
<rect x="358.21" y="242.55" width="16.04" height="8.12" fill="#bfc333"/>
<rect x="358.21" y="250.68" width="16.04" height="8.12" fill="#bfc333"/>
<rect x="358.21" y="258.80" width="16.04" height="8.12" fill="#bfc333"/>
<rect x="358.21" y="266.93" width="16.04" height="8.12" fill="#bfc333"/>
<rect x="358.21" y="275.05" width="16.04" height="8.12" fill="#37b04b"/>
<rect x="374.25" y="39.45" width="16.04" height="8.12" fill="#37b04b"/>
<rect x="374.25" y="47.57" width="16.04" height="8.12" fill="#37b04b"/>
<rect x="374.25" y="55.70" width="16.04" height="8.12" fill="#37b04b"/>
<rect x="374.25" y="63.82" width="16.04" height="8.12" fill="#37b04b"/>
<rect x="374.25" y="71.95" width="16.04" height="8.12" fill="#37b04b"/>
<rect x="374.25" y="80.07" width="16.04" height="8.12" fill="#bfc333"/>
<rect x="374.25" y="88.20" width="16.04" height="8.12" fill="#bfc333"/>
<rect x="374.25" y="96.32" width="16.04" height="8.12" fill="#bfc333"/>
<rect x="374.25" y="104.44" width="16.04" height="8.12" fill="#bfc333"/>
<rect x="374.25" y="112.57" width="16.04" height="8.12" fill="#bfc333"/>
<rect x="374.25" y="120.69" width="16.04" height="8.12" fill="#bfc333"/>
<rect x="374.25" y="128.82" width="16.04" height="8.12" fill="#bfc333"/>
<rect x="374.25" y="136.94" width="16.04" height="8.12" fill="#37b04b"/>
<rect x="374.25" y="145.06" width="16.04" height="8.12" fill="#37b04b"/>
<rect x="374.25" y="153.19" width="16.04" height="8.12" fill="#37b04b"/>
<rect x="374.25" y="161.31" width="16.04" height="8.12" fill="#37b04b"/>
<rect x="374.25" y="169.44" width="16.04" height="8.12" fill="#37b04b"/>
<rect x="374.25" y="177.56" width="16.04" height="8.12" fill="#37b04b"/>
<rect x="374.25" y="185.69" width="16.04" height="8.12" fill="#bfc333"/>
<rect x="374.25" y="193.81" width="16.04" height="8.12" fill="#bfc333"/>
<rect x="374.25" y="201.93" width="16.04" height="8.12" fill="#bfc333"/>
<rect x="374.25" y="210.06" width="16.04" height="8.12" fill="#bfc333"/>
<rect x="374.25" y="218.18" width="16.04" height="8.12" fill="#bfc333"/>
<rect x="374.25" y="226.31" width="16.04" height="8.12" fill="#37b04b"/>
<rect x="374.25" y="234.43" width="16.04" height="8.12" fill="#37b04b"/>
<rect x="374.25" y="242.55" width="16.04" height="8.12" fill="#37b04b"/>
<rect x="374.25" y="250.68" width="16.04" height="8.12" fill="#37b04b"/>
<rect x="374.25" y="258.80" width="16.04" height="8.12" fill="#37b04b"/>
<rect x="374.25" y="266.93" width="16.04" height="8.12" fill="#37b04b"/>
<rect x="374.25" y="275.05" width="16.04" height="8.12" fill="#bfc333"/>
<rect x="374.25" y="283.18" width="16.04" height="8.12" fill="#bfc333"/>
<rect x="390.29" y="39.45" width="16.04" height="8.12" fill="#bfc333"/>
<rect x="390.29" y="47.57" width="16.04" height="8.12" fill="#cc7e2a"/>
<rect x="390.29" y="55.70" width="16.04" height="8.12" fill="#cc7e2a"/>
<rect x="390.29" y="63.82" width="16.04" height="8.12" fill="#bfc333"/>
<rect x="390.29" y="71.95" width="16.04" height="8.12" fill="#bfc333"/>
<rect x="390.29" y="80.07" width="16.04" height="8.12" fill="#bfc333"/>
<rect x="390.29" y="88.20" width="16.04" height="8.12" fill="#bfc333"/>
<rect x="390.29" y="96.32" width="16.04" height="8.12" fill="#bfc333"/>
<rect x="390.29" y="104.44" width="16.04" height="8.12" fill="#37b04b"/>
<rect x="390.29" y="112.57" width="16.04" height="8.12" fill="#37b04b"/>
<rect x="390.29" y="120.69" width="16.04" height="8.12" fill="#37b04b"/>
<rect x="390.29" y="128.82" width="16.04" height="8.12" fill="#37b04b"/>
<rect x="390.29" y="136.94" width="16.04" height="8.12" fill="#37b04b"/>
<rect x="390.29" y="145.06" width="16.04" height="8.12" fill="#37b04b"/>
<rect x="390.29" y="153.19" width="16.04" height="8.12" fill="#37b04b"/>
<rect x="390.29" y="161.31" width="16.04" height="8.12" fill="#37b04b"/>
<rect x="390.29" y="169.44" width="16.04" height="8.12" fill="#37b04b"/>
<rect x="390.29" y="177.56" width="16.04" height="8.12" fill="#37b04b"/>
<rect x="390.29" y="185.69" width="16.04" height="8.12" fill="#37b04b"/>
<rect x="390.29" y="193.81" width="16.04" height="8.12" fill="#37b04b"/>
<rect x="390.29" y="201.93" width="16.04" height="8.12" fill="#37b04b"/>
<rect x="390.29" y="210.06" width="16.04" height="8.12" fill="#37b04b"/>
<rect x="390.29" y="218.18" width="16.04" height="8.12" fill="#37b04b"/>
<rect x="390.29" y="226.31" width="16.04" height="8.12" fill="#37b04b"/>
<rect x="390.29" y="234.43" width="16.04" height="8.12" fill="#37b04b"/>
<rect x="390.29" y="242.55" width="16.04" height="8.12" fill="#37b04b"/>
<rect x="390.29" y="250.68" width="16.04" height="8.12" fill="#37b04b"/>
<rect x="390.29" y="258.80" width="16.04" height="8.12" fill="#37b04b"/>
<rect x="390.29" y="266.93" width="16.04" height="8.12" fill="#37b04b"/>
<rect x="390.29" y="275.05" width="16.04" height="8.12" fill="#37b04b"/>
<rect x="390.29" y="283.18" width="16.04" height="8.12" fill="#37b04b"/>
<rect x="406.33" y="39.45" width="16.04" height="8.12" fill="#37b04b"/>
<rect x="406.33" y="47.57" width="16.04" height="8.12" fill="#6ccde0"/>
<rect x="406.33" y="55.70" width="16.04" height="8.12" fill="#6ccde0"/>
<rect x="406.33" y="63.82" width="16.04" height="8.12" fill="#37b04b"/>
<rect x="406.33" y="71.95" width="16.04" height="8.12" fill="#6ccde0"/>
<rect x="406.33" y="80.07" width="16.04" height="8.12" fill="#6ccde0"/>
<rect x="406.33" y="88.20" width="16.04" height="8.12" fill="#6ccde0"/>
<rect x="406.33" y="96.32" width="16.04" height="8.12" fill="#6ccde0"/>
<rect x="406.33" y="104.44" width="16.04" height="8.12" fill="#6ccde0"/>
<rect x="406.33" y="112.57" width="16.04" height="8.12" fill="#6ccde0"/>
<rect x="406.33" y="120.69" width="16.04" height="8.12" fill="#6ccde0"/>
<rect x="406.33" y="128.82" width="16.04" height="8.12" fill="#6ccde0"/>
<rect x="406.33" y="136.94" width="16.04" height="8.12" fill="#6ccde0"/>
<rect x="406.33" y="145.06" width="16.04" height="8.12" fill="#6ccde0"/>
<rect x="406.33" y="153.19" width="16.04" height="8.12" fill="#6ccde0"/>
<rect x="406.33" y="161.31" width="16.04" height="8.12" fill="#6ccde0"/>
<rect x="406.33" y="169.44" width="16.04" height="8.12" fill="#6ccde0"/>
<rect x="406.33" y="177.56" width="16.04" height="8.12" fill="#6ccde0"/>
<rect x="406.33" y="185.69" width="16.04" height="8.12" fill="#6ccde0"/>
<rect x="406.33" y="193.81" width="16.04" height="8.12" fill="#6ccde0"/>
<rect x="406.33" y="201.93" width="16.04" height="8.12" fill="#6ccde0"/>
<rect x="406.33" y="210.06" width="16.04" height="8.12" fill="#6ccde0"/>
<rect x="406.33" y="218.18" width="16.04" height="8.12" fill="#6ccde0"/>
<rect x="406.33" y="226.31" width="16.04" height="8.12" fill="#6ccde0"/>
<rect x="406.33" y="234.43" width="16.04" height="8.12" fill="#6ccde0"/>
<rect x="406.33" y="242.55" width="16.04" height="8.12" fill="#6ccde0"/>
<rect x="406.33" y="250.68" width="16.04" height="8.12" fill="#6ccde0"/>
<rect x="406.33" y="258.80" width="16.04" height="8.12" fill="#6ccde0"/>
<rect x="406.33" y="266.93" width="16.04" height="8.12" fill="#6ccde0"/>
<rect x="406.33" y="275.05" width="16.04" height="8.12" fill="#6ccde0"/>
<rect x="422.38" y="39.45" width="16.04" height="8.12" fill="#6ccde0"/>
<rect x="422.38" y="47.57" width="16.04" height="8.12" fill="#6ccde0"/>
<rect x="422.38" y="55.70" width="16.04" height="8.12" fill="#6ccde0"/>
<rect x="422.38" y="63.82" width="16.04" height="8.12" fill="#6ccde0"/>
<rect x="422.38" y="71.95" width="16.04" height="8.12" fill="#6ccde0"/>
<rect x="422.38" y="80.07" width="16.04" height="8.12" fill="#6ccde0"/>
<rect x="422.38" y="88.20" width="16.04" height="8.12" fill="#6ccde0"/>
<rect x="422.38" y="96.32" width="16.04" height="8.12" fill="#6ccde0"/>
<rect x="422.38" y="104.44" width="16.04" height="8.12" fill="#6ccde0"/>
<rect x="422.38" y="112.57" width="16.04" height="8.12" fill="#6ccde0"/>
<rect x="422.38" y="120.69" width="16.04" height="8.12" fill="#6ccde0"/>
<rect x="422.38" y="128.82" width="16.04" height="8.12" fill="#6ccde0"/>
<rect x="422.38" y="136.94" width="16.04" height="8.12" fill="#6ccde0"/>
<rect x="422.38" y="145.06" width="16.04" height="8.12" fill="#6ccde0"/>
<rect x="422.38" y="153.19" width="16.04" height="8.12" fill="#6ccde0"/>
<rect x="422.38" y="161.31" width="16.04" height="8.12" fill="#6ccde0"/>
<rect x="422.38" y="169.44" width="16.04" height="8.12" fill="#6ccde0"/>
<rect x="422.38" y="177.56" width="16.04" height="8.12" fill="#6ccde0"/>
<rect x="422.38" y="185.69" width="16.04" height="8.12" fill="#6ccde0"/>
<rect x="422.38" y="193.81" width="16.04" height="8.12" fill="#6ccde0"/>
<rect x="422.38" y="201.93" width="16.04" height="8.12" fill="#6ccde0"/>
<rect x="422.38" y="210.06" width="16.04" height="8.12" fill="#6ccde0"/>
<rect x="422.38" y="218.18" width="16.04" height="8.12" fill="#6ccde0"/>
<rect x="422.38" y="226.31" width="16.04" height="8.12" fill="#6ccde0"/>
<rect x="422.38" y="234.43" width="16.04" height="8.12" fill="#6ccde0"/>
<rect x="422.38" y="242.55" width="16.04" height="8.12" fill="#6ccde0"/>
<rect x="422.38" y="250.68" width="16.04" height="8.12" fill="#6ccde0"/>
<rect x="422.38" y="258.80" width="16.04" height="8.12" fill="#6ccde0"/>
<rect x="422.38" y="266.93" width="16.04" height="8.12" fill="#6ccde0"/>
<rect x="422.38" y="275.05" width="16.04" height="8.12" fill="#6ccde0"/>
<rect x="422.38" y="283.18" width="16.04" height="8.12" fill="#6ccde0"/>
<rect x="438.42" y="39.45" width="16.04" height="8.12" fill="#6ccde0"/>
<rect x="438.42" y="47.57" width="16.04" height="8.12" fill="#6ccde0"/>
<rect x="438.42" y="55.70" width="16.04" height="8.12" fill="#6ccde0"/>
<rect x="438.42" y="63.82" width="16.04" height="8.12" fill="#6ccde0"/>
<rect x="438.42" y="71.95" width="16.04" height="8.12" fill="#6ccde0"/>
<rect x="438.42" y="80.07" width="16.04" height="8.12" fill="#6ccde0"/>
<rect x="438.42" y="88.20" width="16.04" height="8.12" fill="#6ccde0"/>
<rect x="438.42" y="96.32" width="16.04" height="8.12" fill="#6ccde0"/>
<rect x="438.42" y="104.44" width="16.04" height="8.12" fill="#6ccde0"/>
<rect x="438.42" y="112.57" width="16.04" height="8.12" fill="#6ccde0"/>
<rect x="438.42" y="120.69" width="16.04" height="8.12" fill="#6ccde0"/>
<rect x="438.42" y="128.82" width="16.04" height="8.12" fill="#6ccde0"/>
<rect x="438.42" y="136.94" width="16.04" height="8.12" fill="#6ccde0"/>
<rect x="438.42" y="145.06" width="16.04" height="8.12" fill="#6ccde0"/>
<rect x="438.42" y="153.19" width="16.04" height="8.12" fill="#6ccde0"/>
<rect x="438.42" y="161.31" width="16.04" height="8.12" fill="#6ccde0"/>
<rect x="438.42" y="169.44" width="16.04" height="8.12" fill="#6ccde0"/>
<rect x="438.42" y="177.56" width="16.04" height="8.12" fill="#6ccde0"/>
<rect x="438.42" y="185.69" width="16.04" height="8.12" fill="#6ccde0"/>
<rect x="438.42" y="193.81" width="16.04" height="8.12" fill="#6ccde0"/>
<rect x="438.42" y="201.93" width="16.04" height="8.12" fill="#6ccde0"/>
<rect x="438.42" y="210.06" width="16.04" height="8.12" fill="#6ccde0"/>
<rect x="438.42" y="218.18" width="16.04" height="8.12" fill="#6ccde0"/>
<rect x="438.42" y="226.31" width="16.04" height="8.12" fill="#6ccde0"/>
<rect x="438.42" y="234.43" width="16.04" height="8.12" fill="#6ccde0"/>
<rect x="438.42" y="242.55" width="16.04" height="8.12" fill="#6ccde0"/>
<rect x="438.42" y="250.68" width="16.04" height="8.12" fill="#6ccde0"/>
<rect x="438.42" y="258.80" width="16.04" height="8.12" fill="#6ccde0"/>
<rect x="438.42" y="266.93" width="16.04" height="8.12" fill="#6ccde0"/>
<rect x="438.42" y="275.05" width="16.04" height="8.12" fill="#6ccde0"/>
<rect x="454.46" y="39.45" width="16.04" height="8.12" fill="#6ccde0"/>
<rect x="454.46" y="47.57" width="16.04" height="8.12" fill="#6ccde0"/>
<rect x="454.46" y="55.70" width="16.04" height="8.12" fill="#6ccde0"/>
<rect x="454.46" y="63.82" width="16.04" height="8.12" fill="#6ccde0"/>
<rect x="454.46" y="71.95" width="16.04" height="8.12" fill="#6ccde0"/>
<rect x="454.46" y="80.07" width="16.04" height="8.12" fill="#6ccde0"/>
<rect x="454.46" y="88.20" width="16.04" height="8.12" fill="#6ccde0"/>
<rect x="454.46" y="96.32" width="16.04" height="8.12" fill="#6ccde0"/>
<rect x="454.46" y="104.44" width="16.04" height="8.12" fill="#6ccde0"/>
<rect x="454.46" y="112.57" width="16.04" height="8.12" fill="#6ccde0"/>
<rect x="454.46" y="120.69" width="16.04" height="8.12" fill="#6ccde0"/>
<rect x="454.46" y="128.82" width="16.04" height="8.12" fill="#6ccde0"/>
<rect x="454.46" y="136.94" width="16.04" height="8.12" fill="#6ccde0"/>
<rect x="454.46" y="145.06" width="16.04" height="8.12" fill="#6ccde0"/>
<rect x="454.46" y="153.19" width="16.04" height="8.12" fill="#6ccde0"/>
<rect x="454.46" y="161.31" width="16.04" height="8.12" fill="#6ccde0"/>
<rect x="454.46" y="169.44" width="16.04" height="8.12" fill="#6ccde0"/>
<rect x="454.46" y="177.56" width="16.04" height="8.12" fill="#6ccde0"/>
<rect x="454.46" y="185.69" width="16.04" height="8.12" fill="#6ccde0"/>
<rect x="454.46" y="193.81" width="16.04" height="8.12" fill="#6ccde0"/>
<rect x="454.46" y="201.93" width="16.04" height="8.12" fill="#6ccde0"/>
<rect x="454.46" y="210.06" width="16.04" height="8.12" fill="#6ccde0"/>
<rect x="454.46" y="218.18" width="16.04" height="8.12" fill="#6ccde0"/>
<rect x="454.46" y="226.31" width="16.04" height="8.12" fill="#6ccde0"/>
<rect x="454.46" y="234.43" width="16.04" height="8.12" fill="#6ccde0"/>
<rect x="454.46" y="242.55" width="16.04" height="8.12" fill="#6ccde0"/>
<rect x="454.46" y="250.68" width="16.04" height="8.12" fill="#6ccde0"/>
<rect x="454.46" y="258.80" width="16.04" height="8.12" fill="#6ccde0"/>
<rect x="454.46" y="266.93" width="16.04" height="8.12" fill="#6ccde0"/>
<rect x="454.46" y="275.05" width="16.04" height="8.12" fill="#6ccde0"/>
<rect x="454.46" y="283.18" width="16.04" height="8.12" fill="#6ccde0"/>
<path d="M294.04 39.45V291.30M310.08 39.45V291.30M326.12 39.45V291.30M342.17 39.45V291.30M358.21 39.45V291.30M374.25 39.45V291.30M390.29 39.45V291.30M406.33 39.45V291.30M422.38 39.45V291.30M438.42 39.45V291.30M454.46 39.45V291.30M278.00 47.57H470.50M278.00 55.70H470.50M278.00 63.82H470.50M278.00 71.95H470.50M278.00 80.07H470.50M278.00 88.20H470.50M278.00 96.32H470.50M278.00 104.44H470.50M278.00 112.57H470.50M278.00 120.69H470.50M278.00 128.82H470.50M278.00 136.94H470.50M278.00 145.06H470.50M278.00 153.19H470.50M278.00 161.31H470.50M278.00 169.44H470.50M278.00 177.56H470.50M278.00 185.69H470.50M278.00 193.81H470.50M278.00 201.93H470.50M278.00 210.06H470.50M278.00 218.18H470.50M278.00 226.31H470.50M278.00 234.43H470.50M278.00 242.55H470.50M278.00 250.68H470.50M278.00 258.80H470.50M278.00 266.93H470.50M278.00 275.05H470.50M278.00 283.18H470.50" stroke="#fff" stroke-width="0.85" fill="none"/>
<rect x="278.00" y="39.45" width="192.50" height="251.85" fill="none" stroke="#111" stroke-width="1.3"/>
<path d="M273.00 43.51H278.00M273.00 51.64H278.00M273.00 59.76H278.00M273.00 67.88H278.00M273.00 76.01H278.00M273.00 84.13H278.00M273.00 92.26H278.00M273.00 100.38H278.00M273.00 108.51H278.00M273.00 116.63H278.00M273.00 124.75H278.00M273.00 132.88H278.00M273.00 141.00H278.00M273.00 149.13H278.00M273.00 157.25H278.00M273.00 165.38H278.00M273.00 173.50H278.00M273.00 181.62H278.00M273.00 189.75H278.00M273.00 197.87H278.00M273.00 206.00H278.00M273.00 214.12H278.00M273.00 222.24H278.00M273.00 230.37H278.00M273.00 238.49H278.00M273.00 246.62H278.00M273.00 254.74H278.00M273.00 262.87H278.00M273.00 270.99H278.00M273.00 279.11H278.00M273.00 287.24H278.00M286.02 34.35V39.45M302.06 34.35V39.45M318.10 34.35V39.45M334.15 34.35V39.45M350.19 34.35V39.45M366.23 34.35V39.45M382.27 34.35V39.45M398.31 34.35V39.45M414.35 34.35V39.45M430.40 34.35V39.45M446.44 34.35V39.45M462.48 34.35V39.45M278.00 36.25V39.45M294.04 36.25V39.45M310.08 36.25V39.45M326.12 36.25V39.45M342.17 36.25V39.45M358.21 36.25V39.45M374.25 36.25V39.45M390.29 36.25V39.45M406.33 36.25V39.45M422.38 36.25V39.45M438.42 36.25V39.45M454.46 36.25V39.45M470.50 36.25V39.45" stroke="#111" stroke-width="1.3" fill="none"/>
<text transform="translate(268.00 46.91) scale(1.12 1)" text-anchor="end" font-size="9.2">1</text>
<text transform="translate(268.00 55.04) scale(1.12 1)" text-anchor="end" font-size="9.2">2</text>
<text transform="translate(268.00 63.16) scale(1.12 1)" text-anchor="end" font-size="9.2">3</text>
<text transform="translate(268.00 71.28) scale(1.12 1)" text-anchor="end" font-size="9.2">4</text>
<text transform="translate(268.00 79.41) scale(1.12 1)" text-anchor="end" font-size="9.2">5</text>
<text transform="translate(268.00 87.53) scale(1.12 1)" text-anchor="end" font-size="9.2">6</text>
<text transform="translate(268.00 95.66) scale(1.12 1)" text-anchor="end" font-size="9.2">7</text>
<text transform="translate(268.00 103.78) scale(1.12 1)" text-anchor="end" font-size="9.2">8</text>
<text transform="translate(268.00 111.91) scale(1.12 1)" text-anchor="end" font-size="9.2">9</text>
<text transform="translate(268.00 120.03) scale(1.12 1)" text-anchor="end" font-size="9.2">10</text>
<text transform="translate(268.00 128.15) scale(1.12 1)" text-anchor="end" font-size="9.2">11</text>
<text transform="translate(268.00 136.28) scale(1.12 1)" text-anchor="end" font-size="9.2">12</text>
<text transform="translate(268.00 144.40) scale(1.12 1)" text-anchor="end" font-size="9.2">13</text>
<text transform="translate(268.00 152.53) scale(1.12 1)" text-anchor="end" font-size="9.2">14</text>
<text transform="translate(268.00 160.65) scale(1.12 1)" text-anchor="end" font-size="9.2">15</text>
<text transform="translate(268.00 168.78) scale(1.12 1)" text-anchor="end" font-size="9.2">16</text>
<text transform="translate(268.00 176.90) scale(1.12 1)" text-anchor="end" font-size="9.2">17</text>
<text transform="translate(268.00 185.02) scale(1.12 1)" text-anchor="end" font-size="9.2">18</text>
<text transform="translate(268.00 193.15) scale(1.12 1)" text-anchor="end" font-size="9.2">19</text>
<text transform="translate(268.00 201.27) scale(1.12 1)" text-anchor="end" font-size="9.2">20</text>
<text transform="translate(268.00 209.40) scale(1.12 1)" text-anchor="end" font-size="9.2">21</text>
<text transform="translate(268.00 217.52) scale(1.12 1)" text-anchor="end" font-size="9.2">22</text>
<text transform="translate(268.00 225.64) scale(1.12 1)" text-anchor="end" font-size="9.2">23</text>
<text transform="translate(268.00 233.77) scale(1.12 1)" text-anchor="end" font-size="9.2">24</text>
<text transform="translate(268.00 241.89) scale(1.12 1)" text-anchor="end" font-size="9.2">25</text>
<text transform="translate(268.00 250.02) scale(1.12 1)" text-anchor="end" font-size="9.2">26</text>
<text transform="translate(268.00 258.14) scale(1.12 1)" text-anchor="end" font-size="9.2">27</text>
<text transform="translate(268.00 266.27) scale(1.12 1)" text-anchor="end" font-size="9.2">28</text>
<text transform="translate(268.00 274.39) scale(1.12 1)" text-anchor="end" font-size="9.2">29</text>
<text transform="translate(268.00 282.51) scale(1.12 1)" text-anchor="end" font-size="9.2">30</text>
<text transform="translate(268.00 290.64) scale(1.12 1)" text-anchor="end" font-size="9.2">31</text>
<text transform="translate(289.32 29.6) rotate(-90)" font-size="12.2" textLength="19.50" lengthAdjust="spacingAndGlyphs">Jan</text>
<text transform="translate(305.36 29.6) rotate(-90)" font-size="12.2" textLength="19.90" lengthAdjust="spacingAndGlyphs">Feb</text>
<text transform="translate(321.70 29.6) rotate(-90)" font-size="12.2" textLength="22.30" lengthAdjust="spacingAndGlyphs">Mar</text>
<text transform="translate(337.45 29.6) rotate(-90)" font-size="12.2" textLength="20.40" lengthAdjust="spacingAndGlyphs">Apr</text>
<text transform="translate(353.49 29.6) rotate(-90)" font-size="12.2" textLength="22.80" lengthAdjust="spacingAndGlyphs">May</text>
<text transform="translate(369.53 29.6) rotate(-90)" font-size="12.2" textLength="19.40" lengthAdjust="spacingAndGlyphs">Jun</text>
<text transform="translate(386.37 29.6) rotate(-90)" font-size="12.2" textLength="17.90" lengthAdjust="spacingAndGlyphs">Jul</text>
<text transform="translate(401.61 29.6) rotate(-90)" font-size="12.2" textLength="22.20" lengthAdjust="spacingAndGlyphs">Aug</text>
<text transform="translate(416.85 29.6) rotate(-90)" font-size="12.2" textLength="19.60" lengthAdjust="spacingAndGlyphs">Sep</text>
<text transform="translate(433.70 29.6) rotate(-90)" font-size="12.2" textLength="19.90" lengthAdjust="spacingAndGlyphs">Oct</text>
<text transform="translate(449.74 29.6) rotate(-90)" font-size="12.2" textLength="21.50" lengthAdjust="spacingAndGlyphs">Nov</text>
<text transform="translate(465.78 29.6) rotate(-90)" font-size="12.2" textLength="19.90" lengthAdjust="spacingAndGlyphs">Dec</text>
<rect x="506.70" y="35.30" width="12.90" height="42.08" fill="#c8832f"/>
<rect x="506.70" y="77.33" width="12.90" height="42.08" fill="#bfc333"/>
<rect x="506.70" y="119.37" width="12.90" height="42.08" fill="#37b04b"/>
<rect x="506.70" y="161.40" width="12.90" height="42.08" fill="#6ccde0"/>
<rect x="506.70" y="203.43" width="12.90" height="42.08" fill="#1b8bc8"/>
<rect x="506.70" y="245.47" width="12.90" height="42.08" fill="#2a4cb2"/>
<rect x="506.70" y="35.30" width="12.90" height="252.20" fill="none" stroke="#111" stroke-width="1.3"/>
<text x="529.5" y="39.60" font-size="11.5">3</text>
<text x="529.5" y="81.63" font-size="11.5">2</text>
<text x="529.5" y="123.67" font-size="11.5">1</text>
<text x="529.5" y="165.70" font-size="11.5">0</text>
<text x="529.6" y="207.73" font-size="11.5" textLength="9" lengthAdjust="spacingAndGlyphs">−</text>
<text x="538.3" y="207.73" font-size="11.5">1</text>
<text x="529.6" y="249.77" font-size="11.5" textLength="9" lengthAdjust="spacingAndGlyphs">−</text>
<text x="538.3" y="249.77" font-size="11.5">2</text>
<text x="529.6" y="291.80" font-size="11.5" textLength="9" lengthAdjust="spacingAndGlyphs">−</text>
<text x="538.3" y="291.80" font-size="11.5">3</text>
<path d="M519.60 35.30H524.50M519.60 77.33H524.50M519.60 119.37H524.50M519.60 161.40H524.50M519.60 203.43H524.50M519.60 245.47H524.50M519.60 287.50H524.50" stroke="#111" stroke-width="1.3" fill="none"/>
<text x="24.74" y="313.8" font-size="13.7" textLength="14.93" lengthAdjust="spacingAndGlyphs" fill="#262626">(<tspan font-weight="bold">a</tspan>)</text>
<text x="42.87" y="313.8" font-size="13.7" textLength="34.99" lengthAdjust="spacingAndGlyphs" fill="#262626">TMYx</text>
<text x="81.73" y="313.8" font-size="13.7" textLength="70.21" lengthAdjust="spacingAndGlyphs" fill="#262626">(2007–2021):</text>
<text x="156.00" y="313.8" font-size="13.7" textLength="55.62" lengthAdjust="spacingAndGlyphs" fill="#262626">Bathroom</text>
<text x="286.61" y="313.8" font-size="13.7" textLength="16.38" lengthAdjust="spacingAndGlyphs" fill="#262626">(<tspan font-weight="bold">b</tspan>)</text>
<text x="305.93" y="313.8" font-size="13.7" textLength="48.78" lengthAdjust="spacingAndGlyphs" fill="#262626">SSP5-8.5</text>
<text x="357.93" y="313.8" font-size="13.7" textLength="38.22" lengthAdjust="spacingAndGlyphs" fill="#262626">(2080):</text>
<text x="399.90" y="313.8" font-size="13.7" textLength="56.22" lengthAdjust="spacingAndGlyphs" fill="#262626">Bathroom</text>
</svg>
</body></html>
